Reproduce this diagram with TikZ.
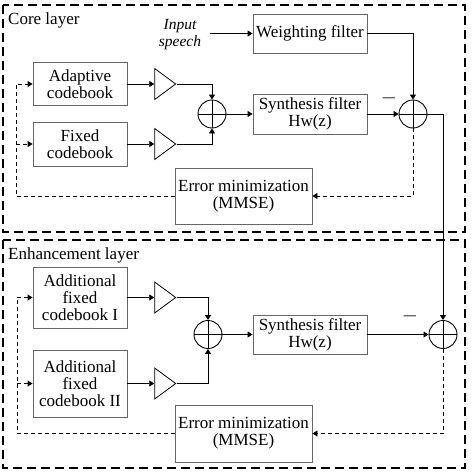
\documentclass[tikz,border=0pt]{standalone}
\usepackage{fontspec}
\setmainfont{Liberation Serif}
\usetikzlibrary{arrows.meta,shapes.geometric}
\begin{document}
\begin{tikzpicture}[x=1pt,y=-1pt,
 txt/.style={font=\fontsize{17}{17}\selectfont},
 box/.style={txt, draw=black!60, line width=0.9pt, inner sep=0pt, align=center},
 amp/.style={draw, isosceles triangle, isosceles triangle stretches, minimum width=31pt, minimum height=21pt, inner sep=0pt, line width=0.8pt},
 sumnode/.style={draw, circle, minimum size=28pt, inner sep=0pt, line width=0.9pt,
   path picture={\draw[line width=0.8pt] (path picture bounding box.north) -- (path picture bounding box.south) (path picture bounding box.west) -- (path picture bounding box.east);}},
 arr/.style={-{Triangle[length=5pt,width=6pt]}, line width=0.9pt},
 darr/.style={arr, dash pattern=on 4pt off 3pt},
 frame/.style={line width=2pt, dash pattern=on 9pt off 5pt},
 lbl/.style={txt, anchor=base west, inner sep=0pt},
 minus/.style={font=\fontsize{22}{22}\selectfont, inner sep=0pt}
]
\useasboundingbox (0,0) rectangle (474,475);
% frames
\draw[frame] (3,5) rectangle (465,232);
\draw[frame] (3,240) rectangle (465,468);
\node[lbl] (corelbl) at (8,24) {Core layer};
\node[lbl] (enhlbl) at (8,259) {Enhancement layer};

% core layer
\node[font=\itshape\fontsize{15.5}{17}\selectfont, align=center, inner sep=0pt] (inp) at (180,35) {Input\\speech};
\node[box, minimum width=114pt, minimum height=39pt] (wf) at (310,33.5) {Weighting filter};
\node[box, minimum width=94pt, minimum height=43pt] (ad) at (80,84) {Adaptive\\codebook};
\node[box, minimum width=94pt, minimum height=44pt] (fx) at (80,144) {Fixed\\codebook};
\node[amp] (ampA) at (162.5,84) {};
\node[amp] (ampF) at (162.5,144) {};
\node[sumnode] (sumL) at (212,114) {};
\node[box, minimum width=114pt, minimum height=40pt] (syn) at (310,114) {Synthesis filter\\Hw(z)};
\node[sumnode] (sumR) at (413,114) {};
\node[box, minimum width=137pt, minimum height=56pt] (err) at (243.5,196) {Error minimization\\(MMSE)};
\node[minus] (m1) at (389,98) {$-$};
\coordinate (fbA) at (16,84);
\coordinate (fbF) at (16,144);

\draw[arr] ([xshift=9pt]inp.east |- wf.west) -- (wf.west);
\draw[arr] (wf.east) -| (sumR.north);
\draw[arr] (ad.east) -- (ampA.west);
\draw[arr] (fx.east) -- (ampF.west);
\draw[arr] (ampA.apex) -| (sumL.north);
\draw[arr] (ampF.apex) -| (sumL.south);
\draw[arr] (sumL.east) -- (syn.west);
\draw[arr] (syn.east) -- (sumR.west);
\draw[darr] (sumR.south) |- (err.east);
\draw[darr] (err.west) -| (fbA) -- (ad.west);
\draw[darr] (fbF) -- (fx.west);

% enhancement layer
\node[box, minimum width=94pt, minimum height=61pt] (a1) at (80,297.5) {Additional\\fixed\\codebook I};
\node[box, minimum width=94pt, minimum height=67pt] (a2) at (80,383.5) {Additional\\fixed\\codebook II};
\node[amp] (ampI) at (162.5,297.5) {};
\node[amp] (ampII) at (162.5,383.5) {};
\node[sumnode] (sumEL) at (208,334.5) {};
\node[box, minimum width=114pt, minimum height=39pt] (syn2) at (310,334.5) {Synthesis filter\\Hw(z)};
\node[sumnode] (sumE) at (443,334.5) {};
\node[box, minimum width=137pt, minimum height=57pt] (err2) at (243.5,433.5) {Error minimization\\(MMSE)};
\node[minus] (m2) at (410,316) {$-$};
\coordinate (fbI) at (17,297.5);
\coordinate (fbII) at (17,383.5);

\draw[arr] (sumR.east) -| (sumE.north);
\draw[arr] (a1.east) -- (ampI.west);
\draw[arr] (a2.east) -- (ampII.west);
\draw[arr] (ampI.apex) -| (sumEL.north);
\draw[arr] (ampII.apex) -| (sumEL.south);
\draw[arr] (sumEL.east) -- (syn2.west);
\draw[arr] (syn2.east) -- (sumE.west);
\draw[darr] (sumE.south) |- (err2.east);
\draw[darr] (err2.west) -| (fbI) -- (a1.west);
\draw[darr] (fbII) -- (a2.west);
\end{tikzpicture}
\end{document}
